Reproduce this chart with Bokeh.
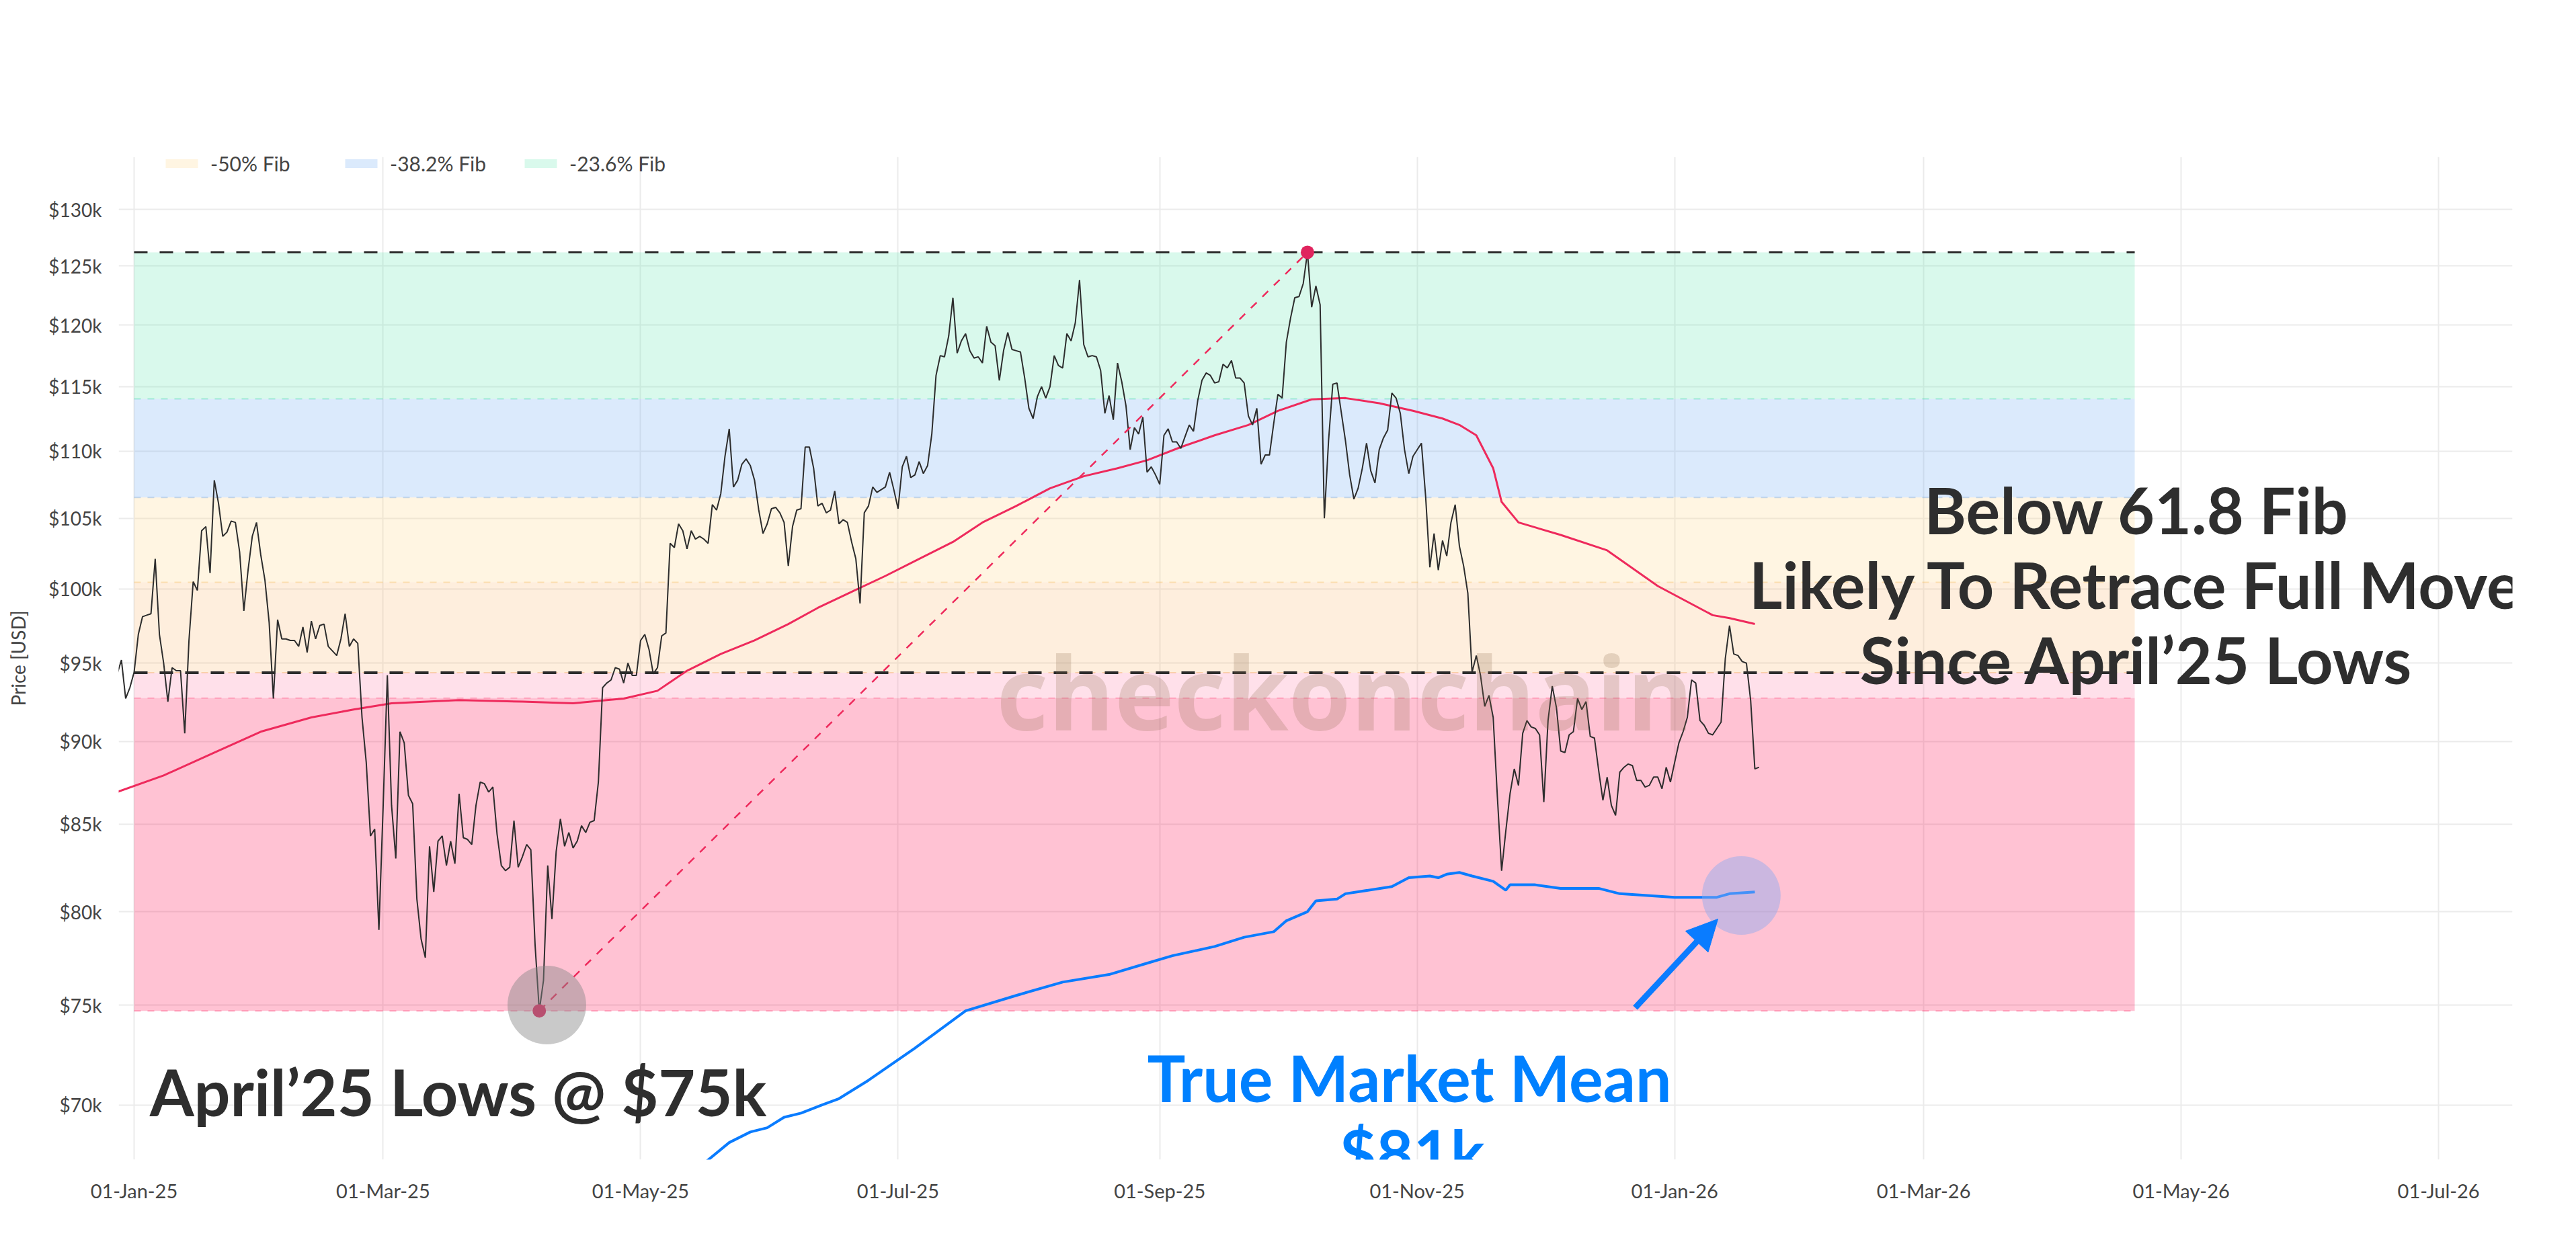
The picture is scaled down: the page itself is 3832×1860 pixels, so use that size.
import pandas as pd
from bokeh.plotting import figure
from bokeh.models import (Range1d, FixedTicker, CustomJSTickFormatter, DatetimeTickFormatter,
                          Legend, LegendItem, Label, BoxAnnotation, Arrow, NormalHead,
                          ColumnDataSource)
from bokeh.embed import file_html
from bokeh.resources import INLINE

# ---------------------------------------------------------------------------
# Bitcoin daily price, USD thousands (one list per month, first day given)
# ---------------------------------------------------------------------------
price_months = {
    "2024-12-28": [94.3, 95.2, 92.7, 93.4],
    "2025-01-01": [94.4, 96.9, 98.1, 98.2, 98.3, 102.1, 96.9, 95.0, 92.5, 94.7,
                   94.5, 94.5, 90.5, 96.5, 100.5, 99.9, 104.1, 104.4, 101.1, 107.8,
                   106.1, 103.7, 104.0, 104.8, 104.7, 102.6, 98.5, 101.3, 103.7, 104.7, 102.4],
    "2025-02-01": [100.6, 97.7, 92.7, 97.9, 96.6, 96.6, 96.5, 96.5, 96.1, 97.4,
                   95.7, 97.8, 96.6, 97.5, 97.6, 96.1, 95.8, 95.5, 96.6, 98.3,
                   96.1, 96.6, 96.3, 91.5, 88.7, 84.3, 84.7, 79.0],
    "2025-03-01": [86.0, 94.2, 86.1, 83.0, 90.6, 89.9, 86.7, 86.2, 80.7, 78.5,
                   77.5, 83.7, 81.1, 84.0, 84.3, 82.6, 84.0, 82.7, 86.8, 84.2,
                   84.1, 83.8, 86.1, 87.5, 87.4, 86.9, 87.2, 84.4, 82.6, 82.3, 82.5],
    "2025-04-01": [85.2, 82.5, 83.1, 83.8, 83.5, 78.2, 74.7, 76.3, 82.6, 79.6,
                   83.4, 85.3, 83.7, 84.5, 83.6, 84.0, 84.9, 84.5, 85.1, 85.2,
                   87.5, 93.4, 93.7, 93.9, 94.7, 94.6, 93.7, 95.0, 94.2, 94.2],
    "2025-05-01": [96.5, 96.9, 95.9, 94.3, 94.7, 96.8, 97.0, 103.2, 102.9, 104.6,
                   104.1, 102.8, 104.1, 103.5, 103.7, 103.5, 103.2, 106.0, 105.6, 106.8,
                   109.6, 111.7, 107.3, 107.8, 109.0, 109.4, 108.9, 107.8, 105.6, 103.9, 104.6],
    "2025-06-01": [105.7, 105.8, 105.4, 104.7, 101.6, 104.4, 105.6, 105.7, 110.3, 110.3,
                   108.7, 105.9, 106.1, 105.4, 105.6, 107.0, 104.6, 104.9, 104.7, 103.3,
                   102.1, 99.0, 105.4, 105.9, 107.3, 106.9, 107.1, 107.3, 108.4, 107.1],
    "2025-07-01": [105.7, 108.8, 109.6, 108.0, 108.2, 109.2, 108.3, 108.9, 111.3, 115.9,
                   117.5, 117.4, 119.1, 122.3, 117.7, 118.7, 119.3, 117.9, 117.3, 117.4,
                   116.9, 119.9, 118.6, 118.3, 115.5, 117.9, 119.4, 118.0, 117.9, 117.8, 115.7],
    "2025-08-01": [113.3, 112.5, 114.2, 115.0, 114.1, 115.0, 117.5, 116.7, 116.5, 119.3,
                   118.7, 120.2, 123.8, 118.4, 117.4, 117.5, 117.4, 116.3, 112.9, 114.3,
                   112.4, 116.9, 115.4, 113.5, 110.1, 111.8, 111.3, 112.6, 108.4, 108.8, 108.2],
    "2025-09-01": [107.5, 111.2, 111.7, 110.7, 110.7, 110.2, 111.1, 112.0, 111.5, 113.9,
                   115.5, 116.1, 115.9, 115.3, 115.4, 116.8, 116.5, 117.1, 115.7, 115.7,
                   115.3, 112.7, 112.0, 113.3, 109.0, 109.7, 109.7, 112.1, 114.4, 114.1],
    "2025-10-01": [118.6, 120.6, 122.3, 122.4, 123.5, 126.2, 121.5, 123.3, 121.7, 105.0,
                   110.8, 115.2, 115.3, 113.0, 110.8, 108.2, 106.4, 107.2, 108.7, 110.6,
                   108.5, 107.6, 110.1, 111.0, 111.6, 114.5, 114.1, 112.9, 110.1, 108.3, 109.6],
    "2025-11-01": [110.1, 110.6, 106.6, 101.5, 103.9, 101.3, 103.4, 102.3, 104.7, 106.0,
                   103.0, 101.6, 99.7, 94.4, 95.5, 94.2, 92.2, 92.9, 91.5, 86.6,
                   82.3, 84.6, 86.8, 88.3, 87.3, 90.5, 91.3, 90.9, 90.8, 90.4],
    "2025-12-01": [86.3, 91.3, 93.5, 92.1, 89.4, 89.3, 90.4, 90.6, 92.7, 92.0,
                   92.5, 90.3, 90.2, 88.2, 86.4, 87.8, 86.1, 85.5, 88.1, 88.4,
                   88.6, 88.5, 87.6, 87.6, 87.2, 87.3, 87.8, 87.8, 87.1, 88.4, 87.5],
    "2026-01-01": [88.7, 89.9, 90.6, 91.5, 93.9, 93.7, 91.3, 91.0, 90.5, 90.4,
                   90.8, 91.2, 95.3, 97.5, 95.6, 95.5, 95.1, 95.0, 92.6, 88.3, 88.4],
}

# Short-term holder realized price (USD thousands)
sth_dates = ["2024-12-28", "2025-01-08", "2025-01-20", "2025-01-31", "2025-02-12",
             "2025-02-22", "2025-03-03", "2025-03-19", "2025-04-03", "2025-04-15",
             "2025-04-23", "2025-04-27", "2025-05-05", "2025-05-12", "2025-05-20",
             "2025-05-28", "2025-06-05", "2025-06-12", "2025-06-20", "2025-06-28",
             "2025-07-06", "2025-07-14", "2025-07-21", "2025-07-29", "2025-08-06",
             "2025-08-14", "2025-08-22", "2025-08-29", "2025-09-06", "2025-09-14",
             "2025-09-22", "2025-09-29", "2025-10-07", "2025-10-15", "2025-10-23",
             "2025-10-31", "2025-11-07", "2025-11-11", "2025-11-15", "2025-11-19",
             "2025-11-21", "2025-11-25", "2025-12-05", "2025-12-16", "2025-12-28",
             "2026-01-10", "2026-01-14", "2026-01-20"]
sth_values = [86.9, 87.9, 89.3, 90.6, 91.5,
              92.0, 92.4, 92.6, 92.5, 92.4,
              92.6, 92.7, 93.2, 94.5, 95.6,
              96.5, 97.6, 98.7, 99.8, 100.9,
              102.1, 103.3, 104.7, 105.9, 107.2,
              108.1, 108.7, 109.3, 110.3, 111.2,
              112.0, 113.1, 114.0, 114.1, 113.7,
              113.1, 112.5, 112.0, 111.2, 108.7,
              106.2, 104.7, 103.8, 102.7, 100.2,
              98.2, 98.0, 97.6]

# True Market Mean (USD thousands)
tmm_dates = ["2025-05-14", "2025-05-22", "2025-05-27", "2025-05-31", "2025-06-04",
             "2025-06-08", "2025-06-13", "2025-06-17", "2025-06-24", "2025-07-05",
             "2025-07-17", "2025-07-29", "2025-08-09", "2025-08-20", "2025-08-29",
             "2025-09-04", "2025-09-14", "2025-09-21", "2025-09-28", "2025-10-01",
             "2025-10-06", "2025-10-08", "2025-10-13", "2025-10-15", "2025-10-26",
             "2025-10-30", "2025-11-04", "2025-11-06", "2025-11-08", "2025-11-11",
             "2025-11-14", "2025-11-19", "2025-11-22", "2025-11-23", "2025-11-29",
             "2025-12-05", "2025-12-14", "2025-12-19", "2026-01-01", "2026-01-11",
             "2026-01-14", "2026-01-20"]
tmm_values = [66.9, 68.2, 68.7, 68.9, 69.4,
              69.6, 70.0, 70.3, 71.2, 72.8,
              74.7, 75.5, 76.2, 76.6, 77.2,
              77.6, 78.1, 78.6, 78.9, 79.5,
              80.0, 80.6, 80.7, 81.0, 81.4,
              81.9, 82.0, 81.9, 82.1, 82.2,
              82.0, 81.7, 81.2, 81.5, 81.5,
              81.3, 81.3, 81.0, 80.8, 80.8,
              81.0, 81.1]

# Fibonacci retracement anchors (USD thousands) and ratios
fib_low_date, fib_low = "2025-04-07", 74.7
fib_high_date, fib_high = "2025-10-06", 126.2
fib_ratios = [0.0, 0.236, 0.382, 0.5, 0.618, 0.65, 1.0]
fib_band_labels = ["-23.6% Fib", "-38.2% Fib", "-50% Fib", "-61.8% Fib", "-65% Fib", None]
fib_band_colors = ["#67e7b3", "#6fabf3", "#ffd78b", "#fbbb77", "#ff83ab", "#ff0b4f"]
fib_line_colors = ["#2fd99a", "#4a94ee", "#f6b84f", "#f39a45", "#ff5c8d", "#ff2a66"]
fib_span = ["2025-01-01", "2026-04-20"]

# Highlight rings (date, USD thousands)
ring_dates = ["2025-04-08 19:00", "2026-01-16 19:00"]
ring_values = [75.0, 80.9]
ring_colors = ["#888888", "#8caaf0"]

x_tick_dates = ["2025-01-01", "2025-03-01", "2025-05-01", "2025-07-01", "2025-09-01",
                "2025-11-01", "2026-01-01", "2026-03-01", "2026-05-01", "2026-07-01"]
y_ticks = [70, 75, 80, 85, 90, 95, 100, 105, 110, 115, 120, 125, 130]

legend_row1 = ["STH +2sd", "STH +1.5sd", "STH +1sd", "STH +0.5sd", "STH -1sd", "STH",
               "True Mean", "MVRV-Z = 0", "128DMA", "200DMA", "Price", "-65% Fib", "-61.8% Fib"]
legend_row2 = ["-50% Fib", "-38.2% Fib", "-23.6% Fib"]

# ---------------------------------------------------------------------------
K = 1000.0
price_dates, price_vals = [], []
for start, vals in price_months.items():
    price_dates += list(pd.date_range(start, periods=len(vals), freq="D"))
    price_vals += [v * K for v in vals]

FONT = "Lato"
DARK = "#444444"
STH_COLOR = "#ee2a5c"
TMM_COLOR = "#0a7cff"

day0 = pd.Timestamp("2025-01-01")
p = figure(width=3832, height=1860, x_axis_type="datetime", y_axis_type="log",
           x_range=Range1d(day0 - pd.Timedelta(days=3.66), day0 + pd.Timedelta(days=563.5)),
           y_range=Range1d(67400, 134800),
           output_backend="svg", toolbar_location=None,
           min_border_left=176, min_border_right=95, min_border_top=233, min_border_bottom=135,
           background_fill_color="white", border_fill_color="white")
p.outline_line_color = None

# axes
p.xaxis.ticker = FixedTicker(ticks=[pd.Timestamp(d).value // 10**6 for d in x_tick_dates])
p.xgrid.ticker = p.xaxis.ticker
p.xaxis.formatter = DatetimeTickFormatter(days="%d-%b-%y", months="%d-%b-%y", years="%d-%b-%y")
p.yaxis.ticker = FixedTicker(ticks=[t * K for t in y_ticks])
p.ygrid.ticker = p.yaxis.ticker
p.yaxis.formatter = CustomJSTickFormatter(code="return '$' + Math.round(tick / 1000) + 'k'")
for ax in (p.xaxis, p.yaxis):
    ax.axis_line_color = None
    ax.major_tick_line_color = None
    ax.minor_tick_line_color = None
    ax.major_label_text_font = FONT
    ax.major_label_text_color = DARK
p.xaxis.major_label_text_font_size = "29px"
p.yaxis.major_label_text_font_size = "28px"
p.xaxis.major_label_standoff = 22
p.yaxis.major_label_standoff = 19
p.yaxis.axis_label = "Price [USD]"
p.yaxis.axis_label_text_font = FONT
p.yaxis.axis_label_text_font_style = "normal"
p.yaxis.axis_label_text_font_size = "28px"
p.yaxis.axis_label_text_color = DARK
p.yaxis.axis_label_standoff = 25
p.grid.grid_line_color = "#ebebeb"
p.grid.grid_line_width = 2

# Fibonacci bands
levels = [fib_high - r * (fib_high - fib_low) for r in fib_ratios]
band_renderers = {}
for i, lab in enumerate(fib_band_labels):
    r = p.varea(x=[pd.Timestamp(d) for d in fib_span], y1=[levels[i + 1] * K] * 2,
                y2=[levels[i] * K] * 2, fill_color=fib_band_colors[i], fill_alpha=0.25)
    if lab:
        band_renderers[lab] = r
    p.line(x=[pd.Timestamp(d) for d in fib_span], y=[levels[i + 1] * K] * 2,
           line_color=fib_line_colors[i], line_alpha=0.35, line_width=2, line_dash="10 10")

# key levels: range high and 61.8% retracement
for lvl, lw in ((levels[0], 3), (levels[4], 4)):
    p.line(x=[pd.Timestamp(d) for d in fib_span], y=[lvl * K] * 2,
           line_color="#2b2b2b", line_width=lw, line_dash="20 18")

# hidden series (legend only)
empty = ColumnDataSource(data=dict(x=[], y=[]))
hidden_styles = {
    "STH +2sd": ("#f58aa6", "3 4"), "STH +1.5sd": ("#f58aa6", "10 12"),
    "STH +1sd": ("#f36a8f", "10 12"), "STH +0.5sd": ("#f36a8f", "10 12"),
    "STH -1sd": ("#f36a8f", "10 12"), "MVRV-Z = 0": ("#a694f2", "solid"),
    "128DMA": ("#f7c56a", "10 12"), "200DMA": ("#3ddcb0", "10 12"),
}
line_renderers = {}
for lab, (col, dash) in hidden_styles.items():
    line_renderers[lab] = p.line(x="x", y="y", source=empty, line_color=col,
                                 line_dash=dash, line_width=4, visible=False)

sth = p.line(x=[pd.Timestamp(d) for d in sth_dates], y=[v * K for v in sth_values],
             line_color=STH_COLOR, line_width=3)
tmm = p.line(x=[pd.Timestamp(d) for d in tmm_dates], y=[v * K for v in tmm_values],
             line_color=TMM_COLOR, line_width=4)
price = p.line(x=price_dates, y=price_vals, line_color="#2d2d2d", line_width=2)
price_key = p.line(x="x", y="y", source=empty, line_color="#808080", line_width=4)
line_renderers.update({"STH": sth, "True Mean": tmm, "Price": price_key})

# low -> high move
p.line(x=[pd.Timestamp(fib_low_date), pd.Timestamp(fib_high_date)], y=[fib_low * K, fib_high * K],
       line_color=STH_COLOR, line_width=2.5, line_dash="12 12")
p.scatter(x=[pd.Timestamp(fib_low_date), pd.Timestamp(fib_high_date)], y=[fib_low * K, fib_high * K],
          size=20, fill_color="#e0245e", line_color=None)

# highlight rings
p.scatter(x=[pd.Timestamp(d) for d in ring_dates], y=[v * K for v in ring_values], size=117,
          fill_color=ring_colors, fill_alpha=0.45, line_color=None)

# legends
def make_items(labels):
    items = []
    for lab in labels:
        rend = line_renderers.get(lab) or band_renderers.get(lab)
        items.append(LegendItem(label=lab, renderers=[rend]))
    return items

for labels, loc in ((legend_row1, (64, 1506)), (legend_row2, (64, 1458))):
    leg = Legend(items=make_items(labels), orientation="horizontal", location=loc,
                 click_policy="hide", padding=0, margin=0, spacing=0,
                 glyph_width=60, glyph_height=16, label_standoff=13, label_width=194,
                 label_height=48, label_text_font=FONT, label_text_font_size="30px",
                 label_text_color=DARK, border_line_color=None, background_fill_alpha=0,
                 inactive_fill_color="white", inactive_fill_alpha=0.55)
    p.add_layout(leg)

# texts (screen units: origin at bottom-left of plot frame)
FX, FY = 176, 1725

def label(text, x, y, size, color="#2e2e2e", bold=True, font=FONT, align="center", alpha=1.0):
    p.add_layout(Label(x=x - FX, y=FY - y, x_units="screen", y_units="screen", text=text,
                       text_font=font, text_font_size=f"{size}px",
                       text_font_style="bold" if bold else "normal", text_color=color,
                       text_alpha=alpha, text_align=align, text_baseline="alphabetic"))

label("Bitcoin Price & Fibonacci Retracements (Today)", 1956, 113, 60, color="#2a2a2a")
label("checkonchain", 2000, 1028, 150, color="#8a6a4a", font="Open Sans", alpha=0.22)
label("Below 61.8 Fib", 3178, 757, 95)
label("Likely To Retrace Full Move", 3178, 868, 95)
label("Since April\u201925 Lows", 3178, 980, 95)
label("April\u201925 Lows @ $75k", 681, 1623, 95)
label("True Market Mean", 2096, 1602, 95, color="#0080ff")
label("$81k", 2100, 1713, 95, color="#0080ff")

# menu boxes
for (x0, x1), txt, tx, ax in (((232, 390), "Info On", 255, 368), ((3470, 3708), "Default Zoom", 3494, 3688)):
    p.add_layout(BoxAnnotation(left=x0 - FX, right=x1 - FX, top=FY - 106, bottom=FY - 170,
                               left_units="screen", right_units="screen",
                               top_units="screen", bottom_units="screen",
                               fill_color="white", fill_alpha=1, line_color="#efefef", line_width=1))
    label(txt, tx, 145, 21, color=DARK, bold=False, align="left")
    label("\u25bc", ax, 145, 18, color="#222222", bold=False)

# arrow to the True Market Mean
p.add_layout(Arrow(x_start=2432 - FX, y_start=FY - 1499, x_end=2555 - FX, y_end=FY - 1367,
                   start_units="screen", end_units="screen", line_color=TMM_COLOR, line_width=9,
                   end=NormalHead(size=46, fill_color=TMM_COLOR, line_color=TMM_COLOR)))

open("out.html", "w").write(file_html(p, INLINE))
